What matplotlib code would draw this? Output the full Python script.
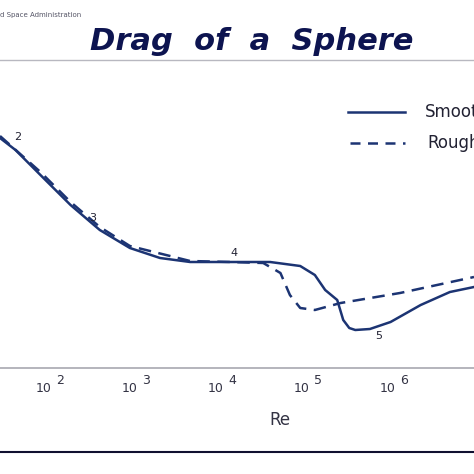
import numpy as np
import matplotlib
matplotlib.use("Agg")
import matplotlib.pyplot as plt

# log10(Re) and drag values
smooth_logre = [1.44, 1.62, 1.91, 2.26, 2.60, 2.95, 3.30, 3.65, 4.12, 4.58, 4.93,
                5.10, 5.22, 5.36, 5.43, 5.50, 5.57, 5.74, 5.98, 6.33, 6.67, 6.95]
smooth_cd = [2.62, 2.50, 2.25, 1.95, 1.70, 1.52, 1.42, 1.38, 1.38, 1.38, 1.34,
             1.25, 1.10, 1.00, 0.80, 0.72, 0.70, 0.71, 0.78, 0.95, 1.08, 1.13]
rough_logre = [1.44, 1.91, 2.26, 2.60, 2.95, 3.65, 4.12, 4.50, 4.70, 4.81, 4.93,
               5.10, 5.40, 6.09, 6.95]
rough_cd = [2.64, 2.28, 1.98, 1.73, 1.54, 1.39, 1.38, 1.37, 1.27, 1.05, 0.92,
            0.90, 0.97, 1.07, 1.23]
point_labels = ['2', '3', '4', '5']
point_logre = [1.65, 2.52, 4.16, 5.84]
point_cd = [2.63, 1.82, 1.47, 0.64]
tick_exps = [2, 3, 4, 5, 6]

navy = '#1c3473'
fig = plt.figure(figsize=(4.74, 4.74), dpi=100)
ax = fig.add_axes([0, 0, 1, 1])
ax.set_xscale('log')
ax.set_xlim(10**1.44, 10**6.95)
ax.set_ylim(-0.74, 4.0)
ax.axis('off')

ax.plot(10**np.array(smooth_logre), smooth_cd, color=navy, lw=1.8)
ax.plot(10**np.array(rough_logre), rough_cd, color=navy, lw=1.8, ls=(0, (5, 3)))

for lab, lx, cy in zip(point_labels, point_logre, point_cd):
    ax.text(10**lx, cy, lab, color='#222233', fontsize=8, ha='center', va='center')

for e in tick_exps:
    ax.text(10**(e - 0.05), 0.11, '10', color='#333344', fontsize=9, ha='center', va='center')
    ax.text(10**(e + 0.14), 0.20, str(e), color='#333344', fontsize=9, ha='center', va='center')
fig.text(0.59, 1 - 420/474, 'Re', color='#333344', fontsize=12, ha='center', va='center')

# slide decorations
fig.add_artist(plt.Line2D([0, 1], [1 - 60/474, 1 - 60/474], color='#b8b8c0', lw=1))
fig.add_artist(plt.Line2D([0, 1], [1 - 368/474, 1 - 368/474], color='#a8a8b0', lw=1.2))
fig.add_artist(plt.Line2D([0, 1], [1 - 452/474, 1 - 452/474], color='#101030', lw=1.5))
fig.text(0.0, 1 - 15/474, 'd Space Administration', color='#555566', fontsize=5, va='center')
fig.text(0.53, 1 - 42/474, 'Drag  of  a  Sphere', color='#0d1450', fontsize=22,
         fontweight='bold', style='italic', ha='center', va='center')

# legend (cut off by the slide crop)
fig.add_artist(plt.Line2D([348/474, 405/474], [1 - 112/474] * 2, color=navy, lw=1.8))
fig.add_artist(plt.Line2D([350/474, 405/474], [1 - 143/474] * 2, color=navy, lw=1.8, ls=(0, (4, 3))))
fig.text(425/474, 1 - 112/474, 'Smooth', color='#222233', fontsize=12, va='center')
fig.text(427/474, 1 - 143/474, 'Rough', color='#222233', fontsize=12, va='center')

fig.savefig('out.png', dpi=100, facecolor='white')
